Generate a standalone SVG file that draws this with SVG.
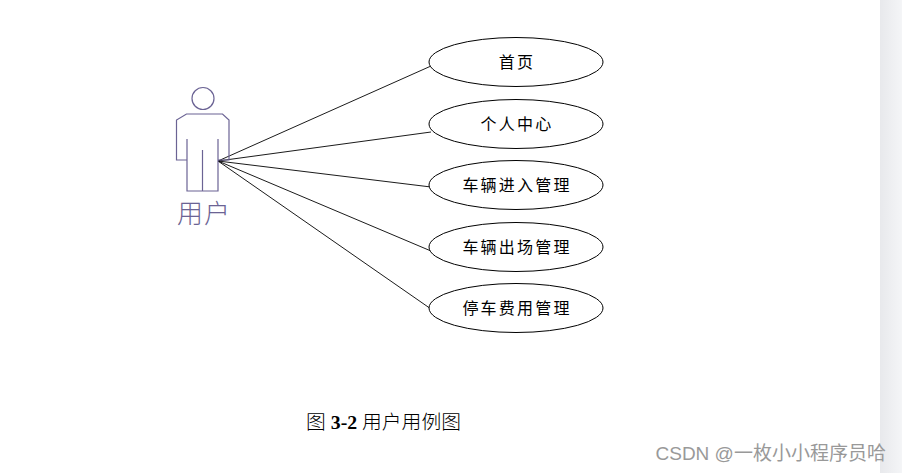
<svg xmlns="http://www.w3.org/2000/svg" width="902" height="473" viewBox="0 0 902 473">
<defs><linearGradient id="sb" x1="0" x2="1" y1="0" y2="0"><stop offset="0" stop-color="#e8e9ec"/><stop offset="1" stop-color="#f4f5f7"/></linearGradient></defs>
<style>
.uc ellipse{fill:#fff;stroke:#000;stroke-width:1}
.uc text{font:400 16px "Noto Sans CJK SC","Liberation Sans",sans-serif;text-anchor:middle;fill:#000;letter-spacing:2.2px;stroke:none}
.con line{stroke:#000;stroke-width:.9}
.act{fill:none;stroke:#6b6394;stroke-width:1.2}
</style>
<rect width="902" height="473" fill="#fff"/>
<rect x="880" width="22" height="473" fill="url(#sb)"/>
<g id="connectors" class="con">
<line x1="218" y1="161" x2="431" y2="66"/>
<line x1="218" y1="161" x2="431" y2="132"/>
<line x1="218" y1="161" x2="431" y2="187"/>
<line x1="218" y1="161" x2="431" y2="251"/>
<line x1="218" y1="161" x2="431" y2="309"/>
</g>
<g id="actor">
<circle class="act" cx="203" cy="98.500" r="11"/>
<path class="act" d="M186.500 114H222.500L229 120V160H218V191H187V160H176.500V120ZM187 139V160M218 139V160M202.500 150V191"/>
<text x="177" y="223" font-family="'Noto Sans CJK SC',sans-serif" font-size="26" font-weight="200" letter-spacing="1" fill="#6b6394">用户</text>
</g>
<g id="uc1" class="uc"><ellipse cx="516" cy="62" rx="87" ry="24.500"/><text x="517" y="67.500">首页</text></g>
<g id="uc2" class="uc"><ellipse cx="516" cy="124" rx="87" ry="24.500"/><text x="517" y="129.500">个人中心</text></g>
<g id="uc3" class="uc"><ellipse cx="516" cy="185" rx="87" ry="24.500"/><text x="517" y="190.500">车辆进入管理</text></g>
<g id="uc4" class="uc"><ellipse cx="516" cy="247" rx="87" ry="24.500"/><text x="517" y="252.500">车辆出场管理</text></g>
<g id="uc5" class="uc"><ellipse cx="516" cy="308" rx="87" ry="24.500"/><text x="517" y="313.500">停车费用管理</text></g>
<text x="306" y="429" font-family="'Liberation Serif','Noto Sans CJK SC',serif" font-size="19.800" font-weight="300" fill="#000">图 <tspan font-weight="bold">3-2</tspan> 用户用例图</text>
<text x="655.500" y="460" font-family="'Liberation Sans','Noto Sans CJK SC',sans-serif" font-size="19" fill="#999">CSDN @一枚小小程序员哈</text>
</svg>
